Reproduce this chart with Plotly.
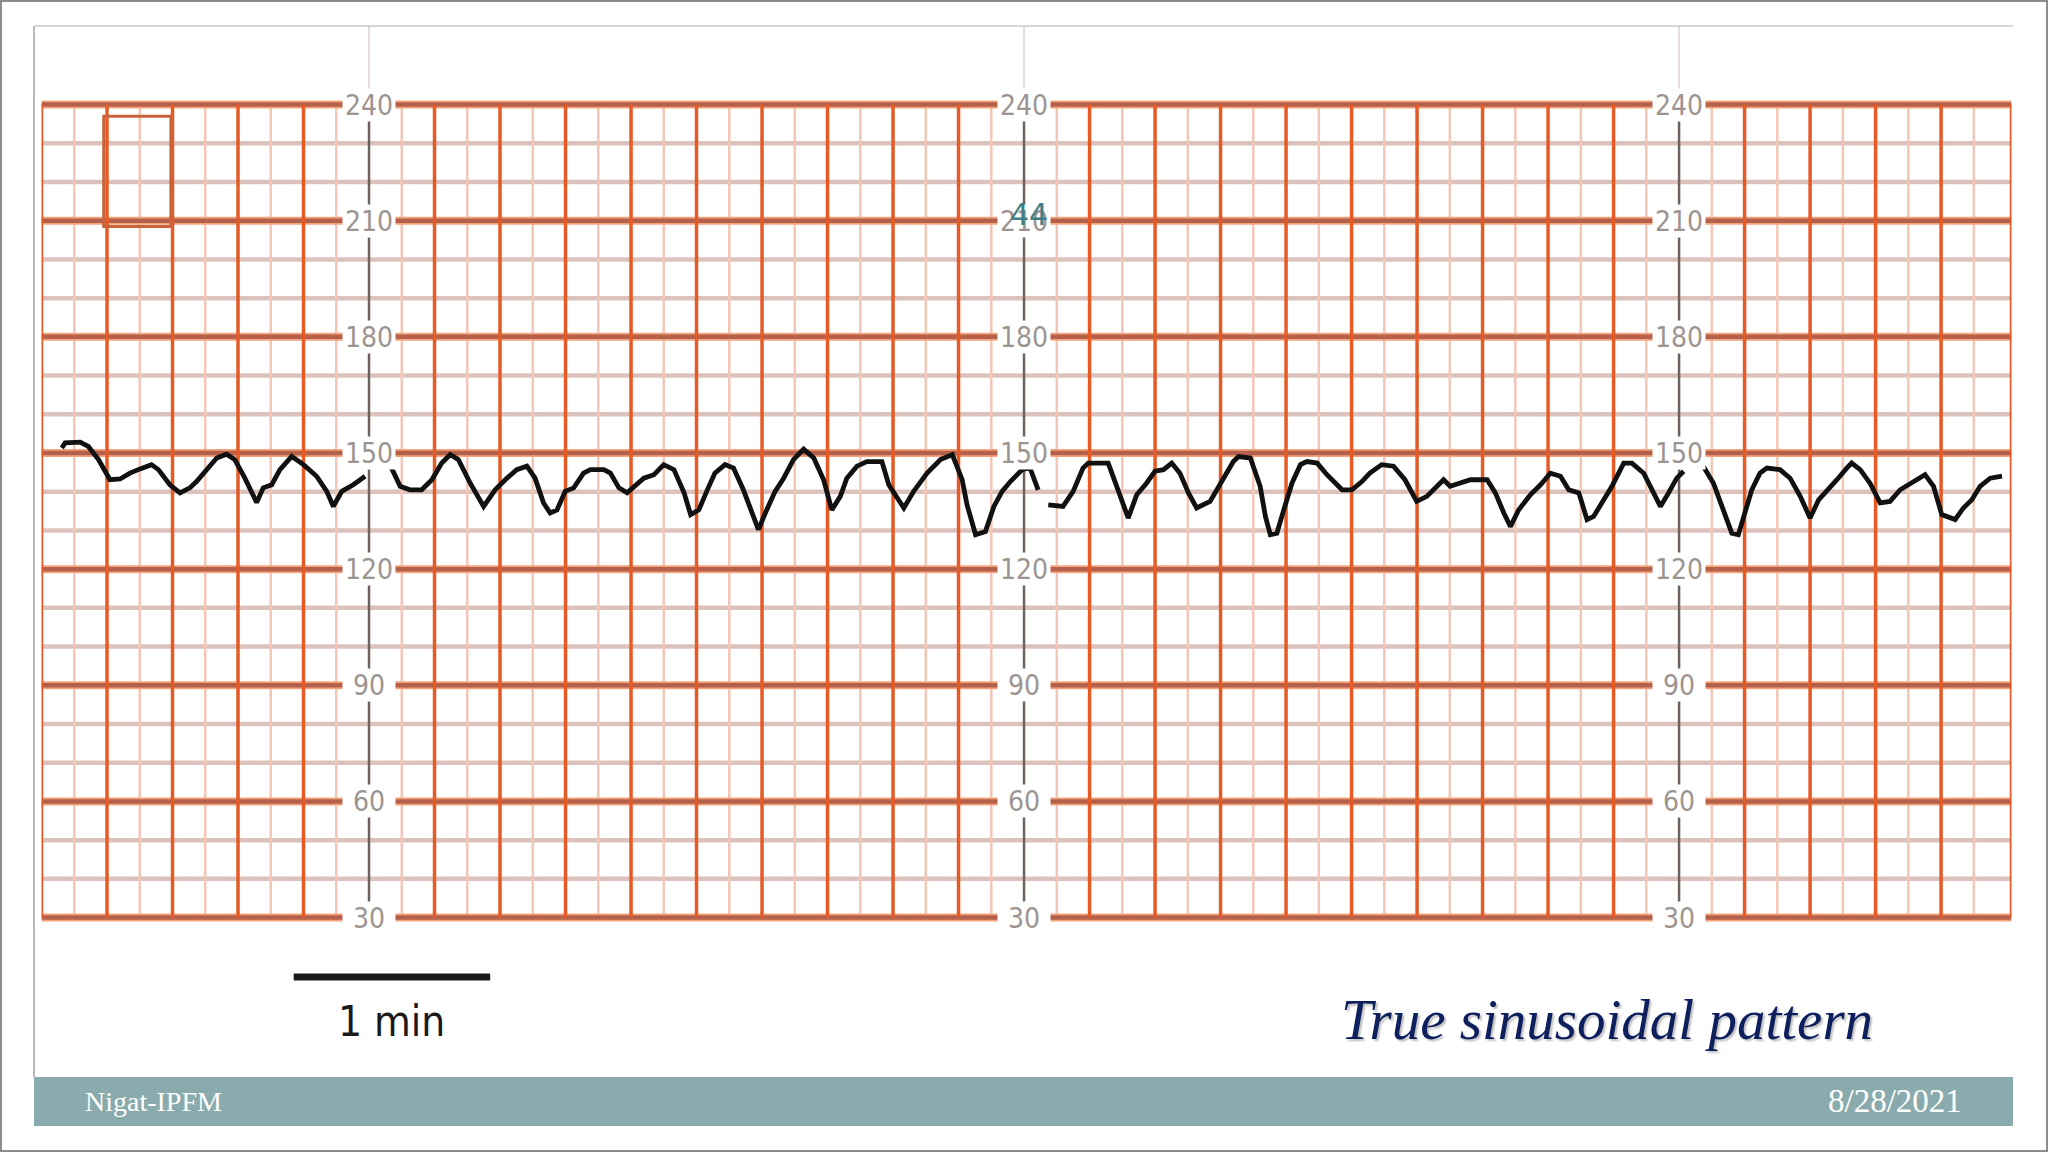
import plotly.graph_objects as go

W, H = 2048, 1152

# ---------------- data (read from the strip) ----------------
# time in seconds from the left edge of the strip, fetal heart rate in bpm
# None marks the gaps where the trace is interrupted at the printed scale columns
time_s = [
    6.2, 7.2, 11.8, 14.3, 17.4, 20.9, 24.0, 27.0, 30.1, 33.6, 35.7, 39.2, 42.3, 45.3, 47.4,
    50.4, 53.5, 56.5, 59.0, 62.1, 65.7, 67.7, 70.3, 72.8, 76.4, 80.0, 84.0, 87.1, 89.1, 91.7,
    95.2, 98.8, None,
    105.4, 106.9, 109.5, 112.5, 116.1, 119.2, 122.2, 124.8, 127.3, 130.9, 135.0, 138.5, 141.6,
    145.1, 148.2, 150.7, 153.3, 155.3, 157.4, 159.9, 162.5, 165.5, 167.6, 171.7, 173.7, 176.3,
    178.8, 181.4, 183.9, 187.0, 190.0, 193.1, 196.2, 198.2, 200.7, 203.1, 205.6, 208.7, 211.3,
    214.3, 216.9, 218.9, 221.0, 224.0, 226.6, 229.6, 232.7, 235.8, 238.8, 241.3, 243.9, 245.9,
    249.0, 252.0, 256.6, 258.7, 263.3, 266.3, 270.4, 274.5, 278.1, 281.1, 282.6, 285.2, 288.2,
    290.8, 293.3, 295.9, 299.4, 301.8, 304.3, None,
    307.4, 311.9, 315.0, 318.0, 319.6, 322.1, 325.7, 328.3, 331.8, 334.4, 337.4, 340.0, 342.6,
    345.1, 347.6, 350.2, 352.7, 356.8, 360.4, 363.9, 365.5, 369.1, 372.1, 373.7, 375.2, 377.2,
    379.3, 381.8, 384.4, 386.4, 389.5, 392.5, 397.1, 400.1, 403.0, 405.6, 409.2, 412.8, 416.3,
    419.9, 423.0, 426.0, 428.1, 430.1, 433.2, 436.3, 441.4, 443.9, 446.5, 448.5, 451.0, 454.6,
    457.7, 460.7, 463.8, 466.3, 469.4, 471.9, 473.9, 476.5, 479.5, 483.1, 485.6, 489.2, 492.2,
    494.3, 496.8, 499.3, 501.4, None,
    505.4, 507.4, 510.5, 513.5, 516.1, 518.1, 520.2, 522.2, 524.7, 526.8, 530.8, 533.9, 537.0,
    540.0, 542.6, 545.6, 548.2, 551.2, 552.7, 555.3, 558.3, 561.4, 564.4, 567.5, 571.6, 575.1,
    577.7, 580.2, 584.3, 586.8, 589.4, 591.9, 595.0, 598.6,
]
fhr_bpm = [
    151.3, 152.6, 152.8, 151.7, 148.3, 143.1, 143.3, 144.8, 145.9, 147.0, 145.7, 141.8, 139.7, 141.0, 142.7,
    145.7, 148.7, 149.7, 148.3, 143.5, 137.2, 141.0, 141.8, 145.7, 149.1, 147.0, 144.0, 140.1, 136.2, 140.1,
    141.8, 144.0, None,
    147.8, 146.1, 141.4, 140.5, 140.5, 143.1, 147.4, 149.6, 148.3, 142.2, 136.2, 140.5, 143.1,
    145.7, 146.6, 143.5, 137.1, 134.5, 135.3, 140.1, 141.0, 144.8, 145.7, 145.7, 144.8, 141.0,
    139.7, 141.8, 143.5, 144.4, 147.0, 145.7, 139.7, 134.1, 135.3, 140.1, 144.8, 147.0, 146.1,
    140.5, 134.5, 130.2, 134.5, 140.1, 143.5, 148.3, 151.0, 148.7, 143.1, 135.3, 138.8, 143.5,
    146.6, 147.8, 147.8, 141.8, 135.8, 140.1, 144.8, 148.3, 149.6, 143.1, 136.6, 128.9, 129.7,
    136.2, 140.1, 142.7, 145.7, 146.2, 140.5, None,
    136.6, 136.2, 140.1, 146.1, 147.4, 147.4, 147.4, 141.4, 133.2, 139.2, 142.2, 145.3, 145.7,
    147.4, 144.8, 139.7, 135.8, 137.5, 142.7, 147.8, 149.1, 148.7, 141.4, 133.6, 128.9, 129.3,
    135.3, 142.2, 147.0, 147.8, 147.4, 144.4, 140.5, 140.5, 142.5, 144.8, 147.0, 146.6, 143.1,
    137.5, 138.8, 141.4, 143.1, 141.4, 142.2, 143.1, 143.1, 139.7, 134.5, 131.0, 135.3, 139.2,
    141.8, 144.8, 144.0, 140.5, 139.7, 132.8, 133.6, 137.1, 141.4, 147.4, 147.4, 144.8, 139.7,
    136.2, 139.7, 143.5, 145.3, None,
    148.3, 146.6, 142.2, 135.3, 129.3, 128.9, 135.3, 140.5, 144.8, 146.1, 145.7, 143.5, 138.8,
    133.2, 137.9, 140.5, 143.1, 146.1, 147.4, 145.7, 142.2, 137.1, 137.5, 140.5, 142.7, 144.4,
    141.4, 134.1, 132.8, 135.8, 137.9, 141.4, 143.5, 144.0,
]

scale_labels_bpm = [240, 210, 180, 150, 120, 90, 60, 30]   # printed scale values
label_columns_s = [100, 300, 500]                          # columns where the scale is printed
scale_bar_s = [77, 137]                                     # the "1 min" bar
bpm_min, bpm_max = 30, 240
strip_end_s = 601.5

# ---------------- styling / geometry ----------------
X_RANGE = [0, strip_end_s]
Y_RANGE = [25.5, 260.3]
PLOT_LEFT, PLOT_RIGHT = 41.5, 2011.5
PLOT_TOP, PLOT_BOTTOM = 26, 935
NARROW = "Liberation Sans Narrow, DejaVu Sans Condensed, Arial Narrow, sans-serif"


def px_x(x):
    return x / W


def px_y(y):
    return 1 - y / H


def hlines(values, x0, x1):
    xs, ys = [], []
    for v in values:
        xs += [x0, x1, None]
        ys += [v, v, None]
    return xs, ys


def vlines(values, y0, y1):
    xs, ys = [], []
    for v in values:
        xs += [v, v, None]
        ys += [y0, y1, None]
    return xs, ys


fig = go.Figure()


def add_lines(xs, ys, color, width):
    fig.add_trace(go.Scatter(x=xs, y=ys, mode="lines", hoverinfo="skip",
                             line=dict(color=color, width=width), showlegend=False))


minor_h = [v for v in range(bpm_min + 10, bpm_max, 10) if v % 30 != 0]
major_h = list(range(bpm_min, bpm_max + 1, 30))
minor_v = list(range(10, 600, 20))
major_v = [0] + [v for v in range(20, 600, 20) if v not in label_columns_s] + [strip_end_s]

xs, ys = hlines(minor_h, 0, strip_end_s)
add_lines(xs, ys, "#dcc2bc", 4.5)
xs, ys = vlines(minor_v, bpm_min, bpm_max)
add_lines(xs, ys, "#f3c6b6", 2.5)
xs, ys = hlines(major_h, 0, strip_end_s)
add_lines(xs, ys, "#f2a47c", 8)
add_lines(xs, ys, "#b5604a", 4.5)
xs, ys = vlines(major_v, bpm_min, bpm_max)
add_lines(xs, ys, "#e65a26", 3.5)
xs, ys = vlines(label_columns_s, bpm_max, Y_RANGE[1])
add_lines(xs, ys, "#e6dcd8", 2)
xs, ys = vlines(label_columns_s, bpm_min, bpm_max)
add_lines(xs, ys, "#6e625c", 2.5)

# the FHR trace
fig.add_trace(go.Scatter(x=time_s, y=fhr_bpm, mode="lines", connectgaps=False,
                         line=dict(color="#111111", width=4.8), hoverinfo="skip",
                         showlegend=False))

annotations = []
label_font = dict(family=NARROW, size=28, color="#9c9490")
for col in label_columns_s:
    for v in scale_labels_bpm:
        annotations.append(dict(x=col, y=v, xref="x", yref="y", text=str(v), showarrow=False,
                                font=label_font, bgcolor="white", width=50, height=30,
                                xanchor="center", yanchor="middle"))

annotations.append(dict(x=301.5, y=211.5, xref="x", yref="y", text="44", showarrow=False,
                        xanchor="center", yanchor="middle",
                        font=dict(family="DejaVu Sans, sans-serif", size=30, color="#3f7f88")))

annotations.append(dict(x=sum(scale_bar_s) / 2, y=px_y(1021), xref="x", yref="paper",
                        text="1 min", showarrow=False, xanchor="center", yanchor="middle",
                        font=dict(family=NARROW, size=42, color="#1a1a1a")))

annotations.append(dict(x=px_x(1607), y=px_y(1019), xref="paper", yref="paper",
                        text="True sinusoidal pattern", showarrow=False,
                        xanchor="center", yanchor="middle",
                        font=dict(family="Liberation Serif, serif", size=57, style="italic",
                                  color="#0d1f5c", shadow="2px 2px 2px rgba(0,0,0,0.25)")))

annotations.append(dict(x=px_x(83), y=px_y(1101), xref="paper", yref="paper",
                        text="Nigat-IPFM", showarrow=False, xanchor="left", yanchor="middle",
                        font=dict(family="Liberation Serif, serif", size=28, color="white")))
annotations.append(dict(x=px_x(1964), y=px_y(1101), xref="paper", yref="paper",
                        text="8/28/2021", showarrow=False, xanchor="right", yanchor="middle",
                        font=dict(family="Liberation Serif, serif", size=33, color="white")))

shapes = [
    # small marker box top-left of the strip
    dict(type="rect", xref="x", yref="y", x0=19, x1=39.5, y0=208.5, y1=237,
         line=dict(color="#c8643c", width=3)),
    # 1 min scale bar
    dict(type="line", xref="x", yref="paper", x0=scale_bar_s[0], x1=scale_bar_s[1],
         y0=px_y(977), y1=px_y(977), line=dict(color="#1a1a1a", width=7)),
    # footer band
    dict(type="rect", xref="paper", yref="paper", x0=px_x(34), x1=px_x(2013),
         y0=px_y(1126), y1=px_y(1077), fillcolor="#8aabad", line=dict(width=0), layer="below"),
    # slide left rule and paper top edge
    dict(type="line", xref="paper", yref="paper", x0=px_x(34), x1=px_x(34),
         y0=px_y(26), y1=px_y(1077), line=dict(color="#9aa4a6", width=1.5)),
    dict(type="line", xref="paper", yref="paper", x0=px_x(34), x1=px_x(2013),
         y0=px_y(26), y1=px_y(26), line=dict(color="#c9c9c9", width=1.5)),
    # outer frame
    dict(type="rect", xref="paper", yref="paper", x0=0.0005, x1=0.9995, y0=0.0009, y1=0.9991,
         line=dict(color="#8c8c8c", width=2)),
]

fig.update_layout(
    width=W, height=H, margin=dict(l=0, r=0, t=0, b=0),
    paper_bgcolor="white", plot_bgcolor="white", showlegend=False,
    xaxis=dict(domain=[PLOT_LEFT / W, PLOT_RIGHT / W], range=X_RANGE, visible=False, fixedrange=True),
    yaxis=dict(domain=[1 - PLOT_BOTTOM / H, 1 - PLOT_TOP / H], range=Y_RANGE, visible=False,
               fixedrange=True),
    annotations=annotations, shapes=shapes,
)

fig.write_html("out.html", config={"displayModeBar": False},
               post_script="document.body.style.margin='0';")
